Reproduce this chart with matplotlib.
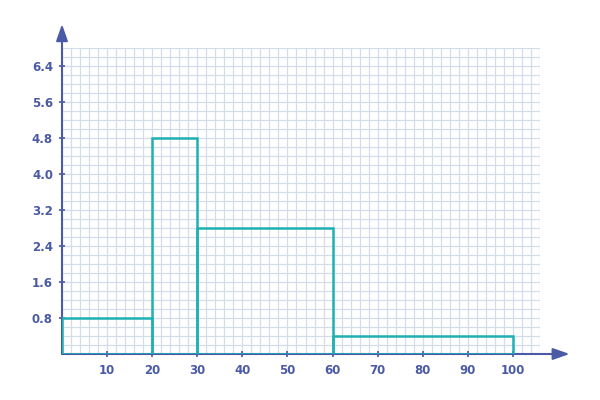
import matplotlib
matplotlib.use("Agg")
import matplotlib.pyplot as plt
import numpy as np

edges = [0, 20, 30, 60, 100]
heights = [0.8, 4.8, 2.8, 0.4]
x_ticks = [10, 20, 30, 40, 50, 60, 70, 80, 90, 100]
y_ticks = [0.8, 1.6, 2.4, 3.2, 4.0, 4.8, 5.6, 6.4]

axis_color = "#4a5aa6"
bar_color = "#1fb0b4"
grid_color = "#d3deea"

fig = plt.figure(figsize=(6, 4), dpi=100)
ax = fig.add_axes([62/600, 46/400, 478/600, 306/400])
ax.set_xlim(0, 106)
ax.set_ylim(0, 6.8)

ax.set_xticks(x_ticks)
ax.set_xticklabels([str(v) for v in x_ticks])
ax.set_yticks(y_ticks)
ax.set_yticklabels([f"{v:.1f}" for v in y_ticks])
ax.set_xticks(np.arange(0, 106.01, 2), minor=True)
ax.set_yticks(np.arange(0, 6.81, 0.2), minor=True)
ax.grid(which="both", color=grid_color, linewidth=0.9)
ax.set_axisbelow(True)

ax.tick_params(which="minor", length=0)
ax.tick_params(which="major", direction="inout", length=5, width=1.2, color=axis_color,
               labelcolor=axis_color, labelsize=8.5)
for lab in ax.get_xticklabels() + ax.get_yticklabels():
    lab.set_fontweight("bold")
ax.tick_params(axis="x", pad=5)
ax.tick_params(axis="y", pad=4)

for s in ["top", "right", "left", "bottom"]:
    ax.spines[s].set_visible(False)

# bars as outlines
for i, h in enumerate(heights):
    ax.bar(edges[i], h, width=edges[i+1]-edges[i], align="edge", fill=False,
           edgecolor=bar_color, linewidth=1.8, zorder=3)

# axes with arrows
ax.annotate("", xy=(1.062, 0), xytext=(0, 0), xycoords="axes fraction",
            arrowprops=dict(arrowstyle="-|>,head_length=1.0,head_width=0.35",
                            color=axis_color, lw=1.5, shrinkA=0, shrinkB=0),
            annotation_clip=False, zorder=2)
ax.annotate("", xy=(0, 1.078), xytext=(0, 0), xycoords="axes fraction",
            arrowprops=dict(arrowstyle="-|>,head_length=1.0,head_width=0.35",
                            color=axis_color, lw=1.5, shrinkA=0, shrinkB=0),
            annotation_clip=False, zorder=2)

fig.savefig("out.png", dpi=100)
